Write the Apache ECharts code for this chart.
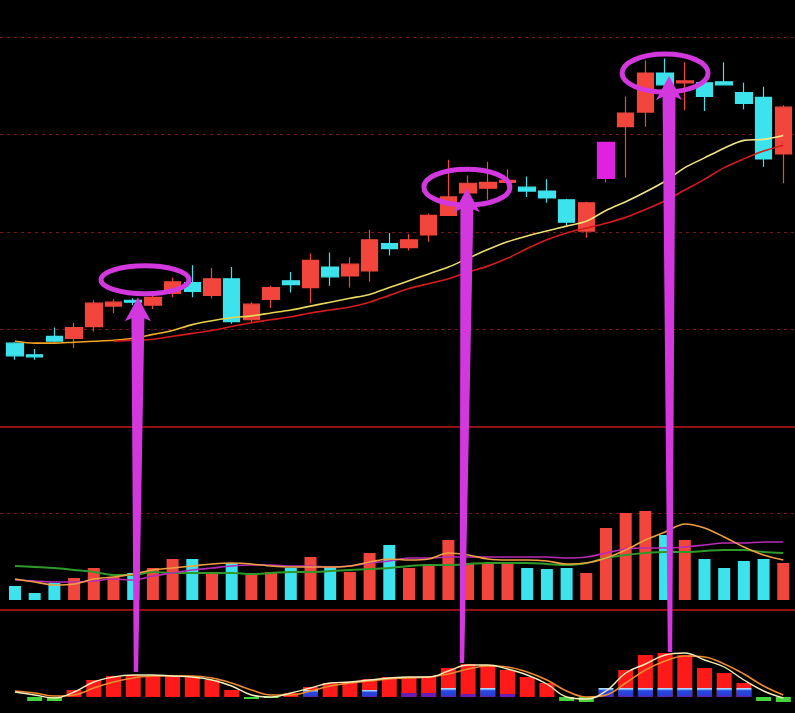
<!DOCTYPE html>
<html><head><meta charset="utf-8">
<script src="https://cdn.jsdelivr.net/npm/echarts@6/dist/echarts.min.js"></script>
<style>html,body{margin:0;padding:0;background:#000;}#c{width:795px;height:713px;}</style>
</head><body><div id="c"></div>
<script>
// ---- data ----
const days = [1,2,3,4,5,6,7,8,9,10,11,12,13,14,15,16,17,18,19,20,21,22,23,24,25,26,27,28,29,30,31,32,33,34,35,36,37,38,39,40];
const open  = [10.86,10.74,10.93,10.91,11.03,11.24,11.30,11.25,11.37,11.48,11.35,11.52,11.10,11.31,11.50,11.43,11.64,11.55,11.60,11.88,11.84,11.97,12.17,12.40,12.45,12.51,12.46,12.42,12.33,12.01,12.55,13.08,13.23,13.63,13.53,13.53,13.54,13.43,13.38,12.80];
const close = [10.73,10.72,10.88,11.02,11.27,11.28,11.28,11.33,11.49,11.39,11.52,11.08,11.26,11.43,11.46,11.71,11.54,11.67,11.92,11.83,11.92,12.17,12.36,12.50,12.51,12.53,12.42,12.35,12.10,12.30,12.92,13.22,13.63,13.51,13.55,13.39,13.51,13.32,12.75,13.28];
const low   = [10.69,10.69,10.87,10.81,10.98,11.17,11.25,11.21,11.33,11.33,11.32,11.06,11.07,11.22,11.38,11.27,11.45,11.43,11.49,11.76,11.81,11.90,12.17,12.36,12.33,12.46,12.36,12.30,12.07,11.94,12.51,12.56,13.08,13.46,13.25,13.24,13.51,13.26,12.67,12.50];
const high  = [10.87,10.80,11.02,11.07,11.30,11.31,11.32,11.35,11.53,11.66,11.63,11.64,11.28,11.45,11.59,11.78,11.79,11.74,12.02,11.99,11.98,12.19,12.74,12.58,12.72,12.64,12.57,12.54,12.34,12.31,12.92,13.39,13.76,13.78,13.74,13.54,13.74,13.53,13.49,13.30];
const ma5   = [10.88,10.86,10.86,10.87,10.88,10.89,10.91,10.95,10.99,11.05,11.09,11.12,11.14,11.17,11.20,11.24,11.28,11.32,11.36,11.43,11.50,11.57,11.64,11.73,11.82,11.90,11.96,12.01,12.06,12.11,12.22,12.31,12.41,12.52,12.66,12.76,12.86,12.94,12.95,12.99];
const ma10  = ['-','-','-','-','-',10.88,10.89,10.90,10.93,10.96,10.99,11.03,11.07,11.10,11.13,11.17,11.20,11.23,11.28,11.35,11.42,11.47,11.52,11.59,11.65,11.73,11.83,11.92,11.99,12.04,12.09,12.15,12.23,12.32,12.43,12.54,12.66,12.75,12.83,12.89];
const specialDays = [30];   // highlighted (magenta) candle

const vol     = [1400,700,1700,2200,3200,2300,2700,3200,4100,4100,2800,3700,2500,2800,3200,4300,3300,2800,4700,5500,3200,3600,6000,3700,3600,3800,3200,3100,3200,2700,7200,8700,8900,6500,6000,4100,3200,3900,4100,3700];
const volMa5  = [2100,1800,1500,1600,2100,2300,2600,3000,3200,3400,3600,3700,3600,3400,3300,3300,3300,3400,3800,4100,4000,4100,4700,4500,4100,4000,4000,3900,3600,3700,4200,5000,6000,6800,7600,7200,6300,5300,4500,4000];
const volMa10 = [2000,1900,1800,1800,1900,2100,2000,2400,2700,3000,3200,3400,3500,3500,3400,3400,3300,3400,3700,3900,4200,4200,4300,4300,4300,4300,4300,4300,4200,4300,4700,5100,5200,5200,5300,5500,5700,5700,5800,5800];
const volMa20 = [3400,3300,3200,3000,2800,2500,2500,2800,2700,2700,2700,2700,2600,2700,2800,2800,2900,3000,3100,3200,3400,3500,3500,3600,3700,3700,3700,3600,3500,3700,4200,4500,4700,4800,4800,4900,5000,5000,4800,4700];

const macd = [0,-0.04,-0.04,0.07,0.17,0.21,0.22,0.21,0.21,0.20,0.17,0.07,-0.02,-0.01,0.04,0.10,0.14,0.15,0.18,0.20,0.20,0.20,0.29,0.33,0.32,0.27,0.20,0.14,-0.04,-0.05,0.03,0.27,0.42,0.44,0.42,0.29,0.24,0.14,-0.04,-0.05];
const dif  = [0.05,0.02,-0.01,0.05,0.15,0.20,0.22,0.22,0.21,0.20,0.17,0.11,0.02,0,0.04,0.09,0.14,0.15,0.17,0.19,0.20,0.20,0.26,0.32,0.32,0.28,0.22,0.13,0,-0.02,0.06,0.24,0.33,0.42,0.44,0.37,0.30,0.17,0.06,-0.01];
const dea  = [0.06,0.04,0.01,0.02,0.09,0.15,0.19,0.21,0.21,0.21,0.19,0.14,0.07,0.02,0.02,0.06,0.11,0.14,0.16,0.18,0.19,0.20,0.23,0.28,0.31,0.30,0.25,0.17,0.06,0,0.02,0.14,0.27,0.36,0.41,0.40,0.33,0.23,0.11,0.02];
const blueBand   = ['-','-','-','-','-','-','-','-','-','-','-','-','-','-','-',0.07,'-','-',0.07,'-','-','-',0.09,'-',0.09,'-','-','-','-','-',0.09,0.09,0.09,0.09,0.09,0.09,0.09,0.09,'-','-'];
const purpleBand = ['-','-','-','-','-','-','-','-','-','-','-','-','-','-','-','-','-','-','-','-',0.04,0.04,'-',0.03,'-',0.03,'-','-','-','-','-','-','-','-','-','-','-','-','-','-'];

// annotation anchors: [day index, value]
const notes = [
  {ring:[6.6, 11.51],  tip:[6.24, 11.33],  foot:[6.14, 0.25]},
  {ring:[22.94, 12.46], tip:[22.94, 12.45], foot:[22.69, 0.34]},
  {ring:[33.0, 13.63], tip:[33.2, 13.60],  foot:[33.25, 0.45]}
];

// ---- styling ----
const RED = '#f2463c', CYAN = '#3de3ec', MAG = '#d238de';
const XMIN = -0.761, XMAX = 39.594;
const pts = arr => days.map((d, i) => [i, arr[i]]);

const xBase = (g, extra) => Object.assign({
  type: 'value', gridIndex: g, min: XMIN, max: XMAX,
  axisLabel: {show: false}, axisTick: {show: false}, splitLine: {show: false},
  axisLine: {show: false, onZero: false}
}, extra || {});

const candleData = days.map((d, i) => {
  const item = {value: [i, open[i], close[i], low[i], high[i]]};
  if (specialDays.indexOf(i) >= 0) item.itemStyle = {color: '#e022e0', color0: '#e022e0', borderColor: '#e022e0', borderColor0: '#e022e0'};
  return item;
});
const volData = days.map((d, i) => ({value: [i, vol[i]], itemStyle: {color: close[i] >= open[i] ? RED : CYAN}}));
const macdData = days.map((d, i) => ({value: [i, macd[i]], itemStyle: {color: macd[i] >= 0 ? '#ff1a1a' : '#46d43c'}}));

const option = {
  backgroundColor: '#000',
  animation: false,
  grid: [
    {left: 0, right: 0, top: 37, height: 390},
    {left: 0, right: 0, top: 513, height: 87},
    {left: 0, right: 0, top: 645, height: 60}
  ],
  xAxis: [
    xBase(0, {axisLine: {show: true, onZero: false, lineStyle: {color: '#c01818', width: 1.5}}}),
    xBase(1, {offset: 10, axisLine: {show: true, onZero: false, lineStyle: {color: '#c01818', width: 1.5}}}),
    xBase(2)
  ],
  yAxis: [
    {gridIndex: 0, min: 10, max: 14, interval: 1, axisLabel: {show: false}, axisTick: {show: false}, axisLine: {show: false},
     splitLine: {show: true, showMinLine: false, lineStyle: {color: '#7e1616', type: [3, 4], width: 1}}},
    {gridIndex: 1, min: 0, max: 8700, interval: 8700, axisLabel: {show: false}, axisTick: {show: false}, axisLine: {show: false},
     splitLine: {show: true, showMinLine: false, showMaxLine: true, lineStyle: {color: '#7e1616', type: [3, 4], width: 1}}},
    {gridIndex: 2, min: -0.08, max: 0.52, axisLabel: {show: false}, axisTick: {show: false}, axisLine: {show: false}, splitLine: {show: false}}
  ],
  series: [
    {type: 'candlestick', xAxisIndex: 0, yAxisIndex: 0, barWidth: 17, encode: {x: 0, y: [1, 2, 3, 4]},
     itemStyle: {color: RED, color0: CYAN, borderColor: RED, borderColor0: CYAN, borderWidth: 1.2},
     data: candleData},
    {type: 'line', xAxisIndex: 0, yAxisIndex: 0, data: pts(ma5), symbol: 'none', smooth: 0.3,
     lineStyle: {width: 1.6, color: {type: 'linear', x: 0, y: 0, x2: 1, y2: 0, colorStops: [
       {offset: 0, color: '#f5a020'}, {offset: 0.17, color: '#f3a626'}, {offset: 0.24, color: '#e6d24c'}, {offset: 1, color: '#f2e68e'}]}}},
    {type: 'line', xAxisIndex: 0, yAxisIndex: 0, data: pts(ma10), symbol: 'none', smooth: 0.3,
     lineStyle: {width: 1.6, color: '#d41c1c'}},

    {type: 'bar', xAxisIndex: 1, yAxisIndex: 1, barWidth: 12, clip: false, data: volData},
    {type: 'line', xAxisIndex: 1, yAxisIndex: 1, data: pts(volMa20), symbol: 'none', smooth: 0.3, lineStyle: {width: 2, color: '#2f9a2a'}},
    {type: 'line', xAxisIndex: 1, yAxisIndex: 1, data: pts(volMa10), symbol: 'none', smooth: 0.3, lineStyle: {width: 1.6, color: '#b62cb6'}},
    {type: 'line', xAxisIndex: 1, yAxisIndex: 1, data: pts(volMa5), symbol: 'none', smooth: 0.3, lineStyle: {width: 1.6, color: '#eea040'}},

    {type: 'bar', xAxisIndex: 2, yAxisIndex: 2, barWidth: 15, barGap: '-100%', data: macdData},
    {type: 'bar', xAxisIndex: 2, yAxisIndex: 2, barWidth: 15, barGap: '-100%', data: pts(blueBand),
     itemStyle: {color: {type: 'linear', x: 0, y: 0, x2: 0, y2: 1, colorStops: [
       {offset: 0, color: '#d8e8ff'}, {offset: 0.18, color: '#6aa8ff'}, {offset: 0.3, color: '#2848e0'}, {offset: 0.75, color: '#2640d8'}, {offset: 1, color: '#6a1cb0'}]}}},
    {type: 'bar', xAxisIndex: 2, yAxisIndex: 2, barWidth: 15, barGap: '-100%', data: pts(purpleBand), itemStyle: {color: '#6a1cb4'}},
    {type: 'line', xAxisIndex: 2, yAxisIndex: 2, data: pts(dea), symbol: 'none', smooth: 0.4, lineStyle: {width: 1.6, color: '#f08a30'}},
    {type: 'line', xAxisIndex: 2, yAxisIndex: 2, data: pts(dif), symbol: 'none', smooth: 0.4, lineStyle: {width: 1.4, color: '#f4eeb8'}}
  ]
};

const chart = echarts.init(document.getElementById('c'), null, {renderer: 'canvas'});
chart.setOption(option);

// ---- annotations (ellipses + arrows), positioned through the axes ----
const ringSize = [[44, 14], [43, 18], [43, 19]];
const px = (p, g) => chart.convertToPixel({xAxisIndex: g, yAxisIndex: g}, p);
const graphics = [];
notes.forEach((n, k) => {
  const c = px(n.ring, 0), t = px(n.tip, 0), b = px(n.foot, 2);
  const hy = t[1] + 23;
  graphics.push({
    type: 'polygon', z: 100,
    shape: {points: [[b[0] - 2.2, b[1]], [b[0] + 2.2, b[1]], [t[0] + 6.5, hy - 2], [t[0] + 13, hy + 1], [t[0], t[1]], [t[0] - 13, hy + 1], [t[0] - 6.5, hy - 2]]},
    style: {fill: MAG}
  });
  graphics.push({
    type: 'ellipse', z: 101,
    shape: {cx: c[0], cy: c[1], rx: ringSize[k][0], ry: ringSize[k][1]},
    style: {fill: 'none', stroke: MAG, lineWidth: 5}
  });
});
chart.setOption({graphic: graphics});
</script>
</body></html>
